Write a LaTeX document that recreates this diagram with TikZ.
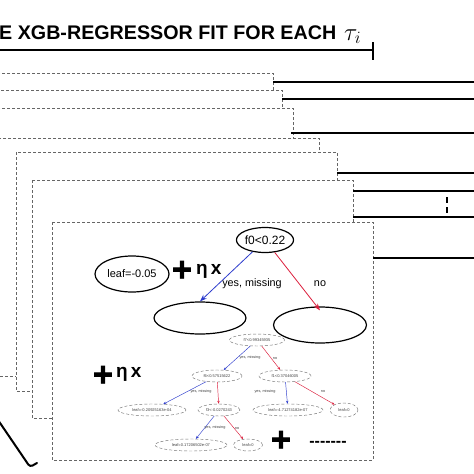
\documentclass[tikz,border=0pt]{standalone}
\usepackage{fontspec}
\setmainfont{Liberation Sans}
\newfontfamily\plusfont[BoldFeatures={FakeBold=2}]{Liberation Sans}
\usetikzlibrary{shapes.geometric,arrows.meta}
\definecolor{yesblue}{RGB}{45,60,205}
\definecolor{nored}{RGB}{220,30,60}
\tikzset{
	page/.style={draw=black!60, densely dashed, line width=0.8pt, fill=white},
	rail/.style={line width=1.8pt},
	bigoval/.style={draw, ellipse, line width=1.2pt, inner sep=0pt},
	tinyoval/.style={draw=black!55, densely dashed, ellipse, line width=0.45pt, inner sep=0pt, minimum height=12pt, font=\fontsize{4}{4}\selectfont, text=black!75},
	yesarrow/.style={-{Stealth[length=7pt,width=5pt]}, yesblue, line width=0.8pt},
	noarrow/.style={-{Stealth[length=7pt,width=5pt]}, nored, line width=0.8pt},
	tinyyes/.style={-{Stealth[length=3pt,width=2.4pt]}, yesblue, line width=0.45pt},
	tinyno/.style={-{Stealth[length=3pt,width=2.4pt]}, nored, line width=0.45pt},
	tinylabel/.style={font=\fontsize{3.8}{4}\selectfont, text=black!75, inner sep=0pt},
	plussign/.style={font=\plusfont\bfseries\fontsize{34}{34}\selectfont, inner sep=0pt},
	etax/.style={font=\bfseries\fontsize{19}{19}\selectfont, inner sep=0pt}
}

\begin{document}
\begin{tikzpicture}[x=1pt, y=-1pt]
	%%%%% START %%%%%
	\useasboundingbox (0,0) rectangle (474,474);
	\clip (0,0) rectangle (474,474);
	
	% title
	\node[anchor=base west, font=\bfseries\fontsize{19.7}{20}\selectfont, inner sep=0pt] (title) at (-1,39) {E XGB-REGRESSOR FIT FOR EACH};
	\node[anchor=base west, font=\fontsize{26}{26}\selectfont, inner sep=0pt] (tau) at (344,40) {$\tau_i$};
	\draw[rail] (-5,50) -- (373,50);
	\draw[line width=2.4pt] (373,42) -- (373,60);
	
	% stacked pages
	\draw[page] (-48,73) rectangle (273,311);
	\draw[page] (-39,90) rectangle (282,328);
	\draw[page] (-28,108) rectangle (293,346);
	\draw[page] (-2,138) rectangle (319,376);
	\draw[page] (16,152) rectangle (337,391);
	\draw[page] (32,180) rectangle (353,418);
	\draw[page] (52,222) rectangle (373,460);
	
	% rails to the right
	\draw[rail] (273,82) -- (480,82);
	\draw[rail] (282,99) -- (480,99);
	\draw[rail] (291,133) -- (480,133);
	\draw[rail] (337,173) -- (480,173);
	\draw[rail] (353,191) -- (480,191);
	\draw[rail] (353,217) -- (480,217);
	\draw[rail] (373,258) -- (480,258);
	\draw[line width=1.6pt, dash pattern=on 6pt off 4pt] (447,197) -- (447,213);
	
	% brace end
	\draw[line width=2pt, rounded corners=3pt, line cap=round] (-2,420) -- (30,467) -- (37,463);
	
	% first tree
	\node[bigoval, minimum width=55pt, minimum height=25pt, font=\fontsize{12}{12}\selectfont] (f0) at (265,240) {f0<0.22};
	\node[bigoval, minimum width=74pt, minimum height=36pt, font=\fontsize{11}{11}\selectfont] (leafA) at (132,274) {leaf=-0.05};
	\node[bigoval, minimum width=92pt, minimum height=32pt] (yesbox) at (200,318) {};
	\node[bigoval, minimum width=93pt, minimum height=36pt] (nobox) at (320,325) {};
	\draw[yesarrow] (f0) -- (yesbox.north);
	\draw[noarrow] (f0) -- ([yshift=-4pt]nobox.north);
	\node[font=\fontsize{10.8}{11}\selectfont, inner sep=0pt] (yeslabel) at (252,284) {yes, missing};
	\node[font=\fontsize{10.8}{11}\selectfont, inner sep=0pt] (nolabel) at (320,284) {no};
	
	\node[plussign] (plusA) at (182,271) {+};
	\node[etax, anchor=base west] (etaA) at (196,274) {η\,x};
	\node[plussign] (plusB) at (103,376) {+};
	\node[etax, anchor=base west] (etaB) at (116,377) {η\,x};
	
	% second tree
	\node[tinyoval, minimum width=55pt] (s0) at (257,340) {f7<0.99345935};
	\node[tinyoval, minimum width=50pt] (s1) at (217,376) {f6<0.57515622};
	\node[tinyoval, minimum width=52pt] (s2) at (285,376) {f1<0.37046005};
	\node[tinyoval, minimum width=68pt] (s11) at (152,410) {leaf=-0.20925163e-04};
	\node[tinyoval, minimum width=42pt] (s12) at (219,410) {f3<-0.0270243};
	\node[tinyoval, minimum width=70pt] (s21) at (288,410) {leaf=-4.71274182e-07};
	\node[tinyoval, minimum width=28pt, minimum height=14pt] (s22) at (344,410) {leaf=0};
	\node[tinyoval, minimum width=72pt] (s121) at (191,445) {leaf=0.17206502e-07};
	\node[tinyoval, minimum width=29pt] (s122) at (248,445) {leaf=0};
	
	\draw[tinyyes] (s0) -- (s1);
	\draw[tinyno] (s0) -- (s2);
	\draw[tinyyes] (s1) -- (s11);
	\draw[tinyno] (s1) -- (s12);
	\draw[tinyyes] (s2) -- (s21);
	\draw[tinyno] (s2) -- (s22);
	\draw[tinyyes] (s12) -- (s121);
	\draw[tinyno] (s12) -- (s122);
	
	\node[tinylabel] (l0y) at (250,358) {yes, missing};
	\node[tinylabel] (l0n) at (275,358) {no};
	\node[tinylabel] (l1y) at (201,392) {yes, missing};
	\node[tinylabel] (l2y) at (265,392) {yes, missing};
	\node[tinylabel] (l2n) at (323,391) {no};
	\node[tinylabel] (l12y) at (215,428) {yes, missing};
	\node[tinylabel] (l12n) at (237,428) {no};
	
	\node[plussign] (plusC) at (281,441) {+};
	\node[font=\bfseries\fontsize{16}{16}\selectfont, inner sep=0pt] (more) at (328,444) {-{}-{}-{}-{}-{}-{}-};
	
	%%%%% END %%%%%
\end{tikzpicture}
\end{document}
